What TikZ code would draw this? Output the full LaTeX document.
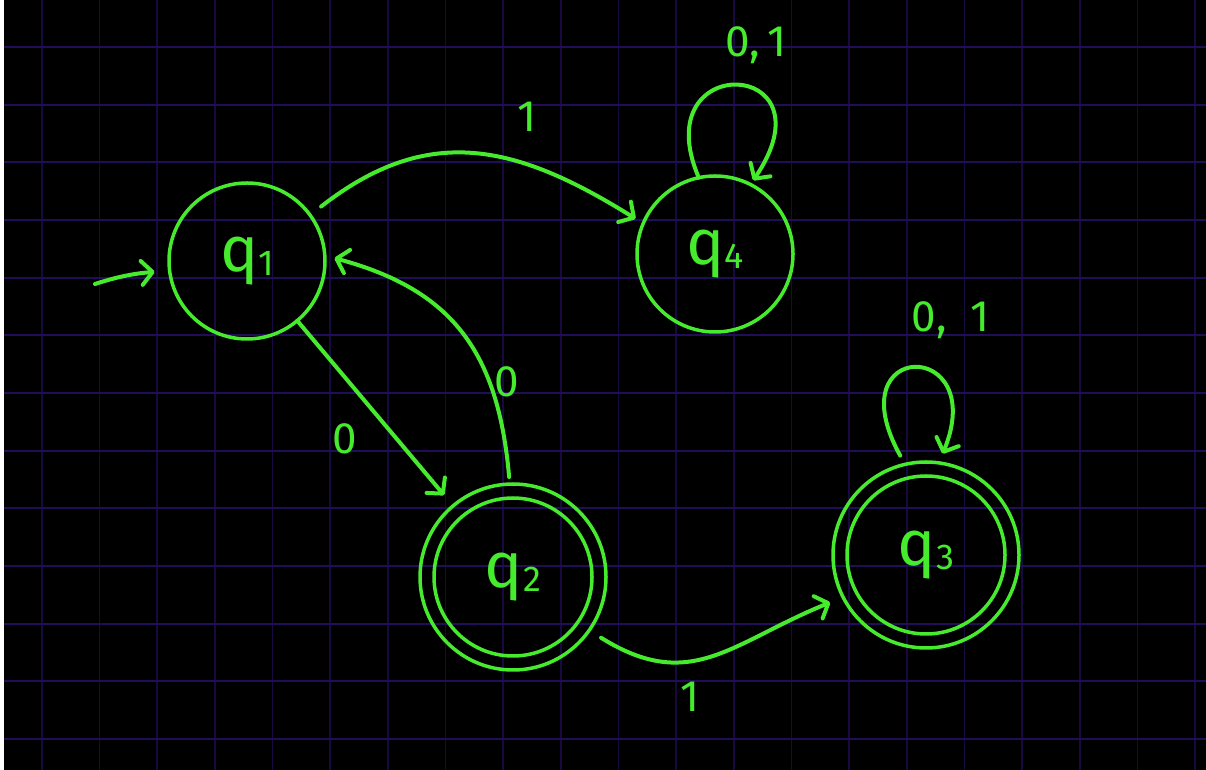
\documentclass[tikz,border=0pt]{standalone}
\usepackage{fontspec}
\setmainfont{Fira Sans}
\usetikzlibrary{arrows.meta}
\definecolor{chalk}{RGB}{70,235,45}
\definecolor{gridv}{RGB}{24,9,64}
\definecolor{gridh}{RGB}{34,14,88}
\newcommand{\qsub}[1]{{\fontsize{64}{64}\selectfont q}\raisebox{-0.4em}{\fontsize{36}{36}\selectfont #1}}
\tikzset{
  state/.style={circle,draw=chalk,line width=3.5pt,minimum size=156pt,inner sep=0pt,outer sep=0pt,text=chalk},
  accstate/.style={state,minimum size=186pt},
  innerring/.style={draw=chalk,line width=3.5pt},
  edge/.style={draw=chalk,line width=4pt,line cap=round,line join=round,-{Straight Barb[length=11pt,width=24pt,line cap=round,line join=round]}},
  elabel/.style={text=chalk,font=\fontsize{44}{44}\selectfont,inner sep=0pt},
  gridvl/.style={draw=gridv,line width=1.7pt},
  gridhl/.style={draw=gridh,line width=2.2pt}
}
\begin{document}
\begin{tikzpicture}[x=1pt,y=1pt]
\useasboundingbox (0,0) rectangle (1206,770);
\fill[black] (0,0) rectangle (1206,770);
\fill[white] (0,0) rectangle (4,770);
\foreach \i in {0,...,20} \draw[gridvl] ({41.7+57.67*\i},0) -- ({41.7+57.67*\i},770);
\foreach \j in {0,...,12} \draw[gridhl] (4,{723-57.67*\j}) -- (1206,{723-57.67*\j});

\node[state] (q1) at (247,509) {\qsub{1}};
\node[state] (q4) at (715,516) {\qsub{4}};
\node[accstate] (q2) at (513,193) {\qsub{2}};
\node[accstate] (q3) at (926,215) {\qsub{3}};
\draw[innerring] (q2.center) circle[radius=79pt];
\draw[innerring] (q3.center) circle[radius=79pt];

\coordinate (init) at (95,486);
\draw[edge,shorten >=15pt] (init) to[out=18,in=185] (q1.187);

\draw[edge,shorten <=14pt,shorten >=9pt] (q1.36) to[out=38,in=148,looseness=1.15] (q4.157);
\node[elabel] (l1a) at (527,653) {1};
\draw[edge,shorten >=14pt] (q1) -- (q2);
\node[elabel] (l0a) at (345,331) {0};
\draw[edge,shorten <=7pt,shorten >=10pt] (q2.92) to[out=95,in=-15,looseness=1.15] (q1.4);
\node[elabel] (l0b) at (507,388) {0};
\draw[edge,shorten <=14pt,shorten >=14pt] (q2.-35) to[out=-32,in=202,looseness=1.2] (q3.207);
\node[elabel] (l1b) at (690,73) {1};

\draw[edge,shorten >=5pt] (q4.102.5) .. controls +(-55,128) and +(86,127) .. (q4.63);
\node[elabel] (l01a) at (756,725) {0,\,1};
\draw[edge,shorten <=10pt,shorten >=10pt] (q3.103) .. controls +(-70,126) and +(51,125) .. (q3.82);
\node[elabel] (l01b) at (951,450) {0,\;\;1};
\end{tikzpicture}
\end{document}
